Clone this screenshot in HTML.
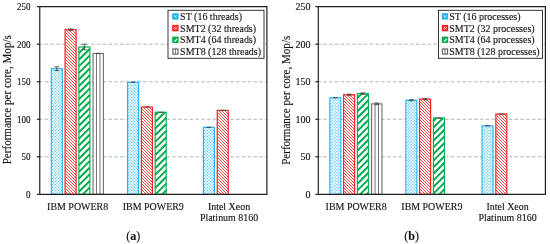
<!DOCTYPE html>
<html><head><meta charset="utf-8"><title>Performance per core</title>
<style>html,body{margin:0;padding:0;background:#fff}svg{display:block}text{font-family:"Liberation Serif",serif;font-size:10px;fill:#141414;stroke:#141414;stroke-width:0.14px}</style></head>
<body><svg width="550" height="244" viewBox="0 0 550 244">
<rect width="550" height="244" fill="#fff"/>

<line x1="38.85" x2="266.9" y1="156.81" y2="156.81" stroke="#adadad" stroke-width="0.9" stroke-dasharray="3.5 2.3"/>
<line x1="38.85" x2="266.9" y1="119.27" y2="119.27" stroke="#adadad" stroke-width="0.9" stroke-dasharray="3.5 2.3"/>
<line x1="38.85" x2="266.9" y1="81.73" y2="81.73" stroke="#adadad" stroke-width="0.9" stroke-dasharray="3.5 2.3"/>
<line x1="38.85" x2="266.9" y1="44.19" y2="44.19" stroke="#adadad" stroke-width="0.9" stroke-dasharray="3.5 2.3"/>
<rect x="51.31" y="68.72" width="11.00" height="125.63" fill="#fff"/>
<path d="M52.36 194.35V68.72M55.36 194.35V68.72M58.36 194.35V68.72M61.36 194.35V68.72" stroke="#1fb4f0" stroke-opacity="0.72" stroke-width="1.3" stroke-dasharray="1.3 1.7" stroke-dashoffset="0.0" fill="none"/>
<path d="M53.86 194.35V68.72M56.86 194.35V68.72M59.86 194.35V68.72" stroke="#1fb4f0" stroke-opacity="0.72" stroke-width="1.3" stroke-dasharray="1.3 1.7" stroke-dashoffset="1.5" fill="none"/>
<rect x="51.31" y="68.72" width="11.00" height="125.63" fill="none" stroke="#1fb4f0" stroke-width="1.15"/>
<path d="M56.81 66.84V70.59M54.41 66.84h4.8M54.41 70.59h4.8" stroke="#484848" stroke-width="0.85" fill="none"/>
<rect x="65.09" y="29.67" width="11.00" height="164.68" fill="#fff"/>
<path d="M65.09 194.09L65.35 194.35M65.09 191.09L68.35 194.35M65.09 188.09L71.35 194.35M65.09 185.09L74.35 194.35M65.09 182.09L76.09 193.09M65.09 179.09L76.09 190.09M65.09 176.09L76.09 187.09M65.09 173.09L76.09 184.09M65.09 170.09L76.09 181.09M65.09 167.09L76.09 178.09M65.09 164.09L76.09 175.09M65.09 161.09L76.09 172.09M65.09 158.09L76.09 169.09M65.09 155.09L76.09 166.09M65.09 152.09L76.09 163.09M65.09 149.09L76.09 160.09M65.09 146.09L76.09 157.09M65.09 143.09L76.09 154.09M65.09 140.09L76.09 151.09M65.09 137.09L76.09 148.09M65.09 134.09L76.09 145.09M65.09 131.09L76.09 142.09M65.09 128.09L76.09 139.09M65.09 125.09L76.09 136.09M65.09 122.09L76.09 133.09M65.09 119.09L76.09 130.09M65.09 116.09L76.09 127.09M65.09 113.09L76.09 124.09M65.09 110.09L76.09 121.09M65.09 107.09L76.09 118.09M65.09 104.09L76.09 115.09M65.09 101.09L76.09 112.09M65.09 98.09L76.09 109.09M65.09 95.09L76.09 106.09M65.09 92.09L76.09 103.09M65.09 89.09L76.09 100.09M65.09 86.09L76.09 97.09M65.09 83.09L76.09 94.09M65.09 80.09L76.09 91.09M65.09 77.09L76.09 88.09M65.09 74.09L76.09 85.09M65.09 71.09L76.09 82.09M65.09 68.09L76.09 79.09M65.09 65.09L76.09 76.09M65.09 62.09L76.09 73.09M65.09 59.09L76.09 70.09M65.09 56.09L76.09 67.09M65.09 53.09L76.09 64.09M65.09 50.09L76.09 61.09M65.09 47.09L76.09 58.09M65.09 44.09L76.09 55.09M65.09 41.09L76.09 52.09M65.09 38.09L76.09 49.09M65.09 35.09L76.09 46.09M65.09 32.09L76.09 43.09M65.67 29.67L76.09 40.09M68.67 29.67L76.09 37.09M71.67 29.67L76.09 34.09M74.67 29.67L76.09 31.09" stroke="#ff1a1a" stroke-width="0.82" fill="none"/>
<rect x="65.09" y="29.67" width="11.00" height="164.68" fill="none" stroke="#ff1a1a" stroke-width="1.15"/>
<path d="M70.59 28.92V30.42M68.19 28.92h4.8M68.19 30.42h4.8" stroke="#484848" stroke-width="0.85" fill="none"/>
<rect x="78.87" y="46.94" width="11.00" height="147.41" fill="#fff"/>
<path d="M78.87 53.13L85.06 46.94M78.87 59.73L89.87 48.73M78.87 66.33L89.87 55.33M78.87 72.93L89.87 61.93M78.87 79.53L89.87 68.53M78.87 86.13L89.87 75.13M78.87 92.73L89.87 81.73M78.87 99.33L89.87 88.33M78.87 105.93L89.87 94.93M78.87 112.53L89.87 101.53M78.87 119.13L89.87 108.13M78.87 125.73L89.87 114.73M78.87 132.33L89.87 121.33M78.87 138.93L89.87 127.93M78.87 145.53L89.87 134.53M78.87 152.13L89.87 141.13M78.87 158.73L89.87 147.73M78.87 165.33L89.87 154.33M78.87 171.93L89.87 160.93M78.87 178.53L89.87 167.53M78.87 185.13L89.87 174.13M78.87 191.73L89.87 180.73M82.85 194.35L89.87 187.33M89.45 194.35L89.87 193.93" stroke="#00ad4e" stroke-width="1.95" fill="none"/>
<rect x="78.87" y="46.94" width="11.00" height="147.41" fill="none" stroke="#00ad4e" stroke-width="1.15"/>
<path d="M84.37 44.24V49.65M81.97 44.24h4.8M81.97 49.65h4.8" stroke="#484848" stroke-width="0.85" fill="none"/>
<rect x="93.05" y="53.47" width="10.35" height="140.88" fill="#fff"/>
<path d="M96.50 52.97V194.35" stroke="#737373" stroke-width="1"/>
<path d="M99.95 52.97V194.35" stroke="#737373" stroke-width="1"/>
<rect x="93.05" y="53.47" width="10.35" height="140.88" fill="none" stroke="#737373" stroke-width="1.15"/>
<path d="M95.92 53.47h4.6" stroke="#484848" stroke-width="1.1" fill="none"/>
<rect x="127.62" y="82.23" width="11.00" height="112.12" fill="#fff"/>
<path d="M128.67 194.35V82.23M131.67 194.35V82.23M134.67 194.35V82.23M137.67 194.35V82.23" stroke="#1fb4f0" stroke-opacity="0.72" stroke-width="1.3" stroke-dasharray="1.3 1.7" stroke-dashoffset="0.0" fill="none"/>
<path d="M130.17 194.35V82.23M133.17 194.35V82.23M136.17 194.35V82.23" stroke="#1fb4f0" stroke-opacity="0.72" stroke-width="1.3" stroke-dasharray="1.3 1.7" stroke-dashoffset="1.5" fill="none"/>
<rect x="127.62" y="82.23" width="11.00" height="112.12" fill="none" stroke="#1fb4f0" stroke-width="1.15"/>
<path d="M130.82 82.23h4.6" stroke="#484848" stroke-width="1.1" fill="none"/>
<rect x="141.40" y="107.01" width="11.00" height="87.34" fill="#fff"/>
<path d="M141.40 192.40L143.35 194.35M141.40 189.40L146.35 194.35M141.40 186.40L149.35 194.35M141.40 183.40L152.35 194.35M141.40 180.40L152.40 191.40M141.40 177.40L152.40 188.40M141.40 174.40L152.40 185.40M141.40 171.40L152.40 182.40M141.40 168.40L152.40 179.40M141.40 165.40L152.40 176.40M141.40 162.40L152.40 173.40M141.40 159.40L152.40 170.40M141.40 156.40L152.40 167.40M141.40 153.40L152.40 164.40M141.40 150.40L152.40 161.40M141.40 147.40L152.40 158.40M141.40 144.40L152.40 155.40M141.40 141.40L152.40 152.40M141.40 138.40L152.40 149.40M141.40 135.40L152.40 146.40M141.40 132.40L152.40 143.40M141.40 129.40L152.40 140.40M141.40 126.40L152.40 137.40M141.40 123.40L152.40 134.40M141.40 120.40L152.40 131.40M141.40 117.40L152.40 128.40M141.40 114.40L152.40 125.40M141.40 111.40L152.40 122.40M141.40 108.40L152.40 119.40M143.01 107.01L152.40 116.40M146.01 107.01L152.40 113.40M149.01 107.01L152.40 110.40M152.01 107.01L152.40 107.40" stroke="#ff1a1a" stroke-width="0.82" fill="none"/>
<rect x="141.40" y="107.01" width="11.00" height="87.34" fill="none" stroke="#ff1a1a" stroke-width="1.15"/>
<path d="M144.60 107.01h4.6" stroke="#484848" stroke-width="1.1" fill="none"/>
<rect x="155.18" y="112.26" width="11.00" height="82.09" fill="#fff"/>
<path d="M155.18 115.42L158.34 112.26M155.18 122.02L164.94 112.26M155.18 128.62L166.18 117.62M155.18 135.22L166.18 124.22M155.18 141.82L166.18 130.82M155.18 148.42L166.18 137.42M155.18 155.02L166.18 144.02M155.18 161.62L166.18 150.62M155.18 168.22L166.18 157.22M155.18 174.82L166.18 163.82M155.18 181.42L166.18 170.42M155.18 188.02L166.18 177.02M155.45 194.35L166.18 183.62M162.05 194.35L166.18 190.22" stroke="#00ad4e" stroke-width="1.95" fill="none"/>
<rect x="155.18" y="112.26" width="11.00" height="82.09" fill="none" stroke="#00ad4e" stroke-width="1.15"/>
<path d="M158.38 112.26h4.6" stroke="#484848" stroke-width="1.1" fill="none"/>
<rect x="203.44" y="127.28" width="11.00" height="67.07" fill="#fff"/>
<path d="M204.49 194.35V127.28M207.49 194.35V127.28M210.49 194.35V127.28M213.49 194.35V127.28" stroke="#1fb4f0" stroke-opacity="0.72" stroke-width="1.3" stroke-dasharray="1.3 1.7" stroke-dashoffset="0.0" fill="none"/>
<path d="M205.99 194.35V127.28M208.99 194.35V127.28M211.99 194.35V127.28" stroke="#1fb4f0" stroke-opacity="0.72" stroke-width="1.3" stroke-dasharray="1.3 1.7" stroke-dashoffset="1.5" fill="none"/>
<rect x="203.44" y="127.28" width="11.00" height="67.07" fill="none" stroke="#1fb4f0" stroke-width="1.15"/>
<path d="M206.64 127.28h4.6" stroke="#484848" stroke-width="1.1" fill="none"/>
<rect x="217.22" y="110.39" width="11.00" height="83.96" fill="#fff"/>
<path d="M217.22 193.22L218.35 194.35M217.22 190.22L221.35 194.35M217.22 187.22L224.35 194.35M217.22 184.22L227.35 194.35M217.22 181.22L228.22 192.22M217.22 178.22L228.22 189.22M217.22 175.22L228.22 186.22M217.22 172.22L228.22 183.22M217.22 169.22L228.22 180.22M217.22 166.22L228.22 177.22M217.22 163.22L228.22 174.22M217.22 160.22L228.22 171.22M217.22 157.22L228.22 168.22M217.22 154.22L228.22 165.22M217.22 151.22L228.22 162.22M217.22 148.22L228.22 159.22M217.22 145.22L228.22 156.22M217.22 142.22L228.22 153.22M217.22 139.22L228.22 150.22M217.22 136.22L228.22 147.22M217.22 133.22L228.22 144.22M217.22 130.22L228.22 141.22M217.22 127.22L228.22 138.22M217.22 124.22L228.22 135.22M217.22 121.22L228.22 132.22M217.22 118.22L228.22 129.22M217.22 115.22L228.22 126.22M217.22 112.22L228.22 123.22M218.38 110.38L228.22 120.22M221.38 110.38L228.22 117.22M224.38 110.38L228.22 114.22M227.38 110.38L228.22 111.22" stroke="#ff1a1a" stroke-width="0.82" fill="none"/>
<rect x="217.22" y="110.39" width="11.00" height="83.96" fill="none" stroke="#ff1a1a" stroke-width="1.15"/>
<path d="M220.42 110.39h4.6" stroke="#484848" stroke-width="1.1" fill="none"/>
<path d="M39.75 6.65H266.9V194.35H39.75Z" fill="none" stroke="#222" stroke-width="1.2"/>
<line x1="36.85" x2="39.75" y1="194.35" y2="194.35" stroke="#222" stroke-width="1.2"/>
<text transform="translate(30.55 197.85) scale(0.9 1)" text-anchor="end" style="font-size:10px">0</text>
<line x1="36.85" x2="39.75" y1="156.81" y2="156.81" stroke="#222" stroke-width="1.2"/>
<text transform="translate(30.55 160.31) scale(0.9 1)" text-anchor="end" style="font-size:10px">50</text>
<line x1="36.85" x2="39.75" y1="119.27" y2="119.27" stroke="#222" stroke-width="1.2"/>
<text transform="translate(30.55 122.77) scale(0.9 1)" text-anchor="end" style="font-size:10px">100</text>
<line x1="36.85" x2="39.75" y1="81.73" y2="81.73" stroke="#222" stroke-width="1.2"/>
<text transform="translate(30.55 85.23) scale(0.9 1)" text-anchor="end" style="font-size:10px">150</text>
<line x1="36.85" x2="39.75" y1="44.19" y2="44.19" stroke="#222" stroke-width="1.2"/>
<text transform="translate(30.55 47.69) scale(0.9 1)" text-anchor="end" style="font-size:10px">200</text>
<line x1="36.85" x2="39.75" y1="6.65" y2="6.65" stroke="#222" stroke-width="1.2"/>
<text transform="translate(30.55 10.15) scale(0.9 1)" text-anchor="end" style="font-size:10px">250</text>
<text transform="translate(10.85 99.75) rotate(-90) scale(0.909 1)" text-anchor="middle" style="font-size:12.2px">Performance per core, Mop/s</text>
<text transform="translate(77.61 209.60) scale(0.94 1)" text-anchor="middle" style="font-size:10.6px">IBM POWER8</text>
<text transform="translate(153.32 209.60) scale(0.94 1)" text-anchor="middle" style="font-size:10.6px">IBM POWER9</text>
<text transform="translate(229.04 209.60) scale(0.94 1)" text-anchor="middle" style="font-size:10.6px">Intel Xeon</text>
<text transform="translate(229.04 221.00) scale(0.94 1)" text-anchor="middle" style="font-size:10.6px">Platinum 8160</text>
<rect x="168.00" y="10.3" width="96" height="48" fill="#fff" stroke="#222" stroke-width="0.9"/>
<rect x="173.10" y="14.10" width="4.6" height="4.6" fill="#1fb4f0" stroke="#1fb4f0" stroke-width="1.8"/>
<path d="M174.30 15.30l2.2 2.2M176.50 15.30l-2.2 2.2" stroke="#fff" stroke-width="0.9" stroke-opacity="0.9"/>
<text transform="translate(180.10 19.80) scale(0.926 1)" text-anchor="start" style="font-size:10.8px">ST (16 threads)</text>
<rect x="173.10" y="25.82" width="4.6" height="4.6" fill="#ff1a1a" stroke="#ff1a1a" stroke-width="1.8"/>
<path d="M174.00 26.72l2.8 2.8M173.90 28.62l1.1 1.1M175.90 26.62l1.1 1.1" stroke="#fff" stroke-width="0.9"/>
<text transform="translate(180.10 31.52) scale(0.926 1)" text-anchor="start" style="font-size:10.8px">SMT2 (32 threads)</text>
<rect x="173.10" y="37.54" width="4.6" height="4.6" fill="#00ad4e" stroke="#00ad4e" stroke-width="1.8"/>
<path d="M174.60 41.54L177.20 38.94" stroke="#fff" stroke-width="1.2"/>
<text transform="translate(180.10 43.24) scale(0.926 1)" text-anchor="start" style="font-size:10.8px">SMT4 (64 threads)</text>
<rect x="172.85" y="49.01" width="5.1" height="5.1" fill="#fff" stroke="#666" stroke-width="1.2"/>
<path d="M175.40 48.96v5.2" stroke="#666" stroke-width="0.9"/>
<text transform="translate(180.10 54.96) scale(0.926 1)" text-anchor="start" style="font-size:10.8px">SMT8 (128 threads)</text>
<line x1="317.40000000000003" x2="545.4" y1="156.81" y2="156.81" stroke="#adadad" stroke-width="0.9" stroke-dasharray="3.5 2.3"/>
<line x1="317.40000000000003" x2="545.4" y1="119.27" y2="119.27" stroke="#adadad" stroke-width="0.9" stroke-dasharray="3.5 2.3"/>
<line x1="317.40000000000003" x2="545.4" y1="81.73" y2="81.73" stroke="#adadad" stroke-width="0.9" stroke-dasharray="3.5 2.3"/>
<line x1="317.40000000000003" x2="545.4" y1="44.19" y2="44.19" stroke="#adadad" stroke-width="0.9" stroke-dasharray="3.5 2.3"/>
<rect x="329.85" y="97.77" width="11.00" height="96.58" fill="#fff"/>
<path d="M330.90 194.35V97.77M333.90 194.35V97.77M336.90 194.35V97.77M339.90 194.35V97.77" stroke="#1fb4f0" stroke-opacity="0.72" stroke-width="1.3" stroke-dasharray="1.3 1.7" stroke-dashoffset="0.0" fill="none"/>
<path d="M332.40 194.35V97.77M335.40 194.35V97.77M338.40 194.35V97.77" stroke="#1fb4f0" stroke-opacity="0.72" stroke-width="1.3" stroke-dasharray="1.3 1.7" stroke-dashoffset="1.5" fill="none"/>
<rect x="329.85" y="97.77" width="11.00" height="96.58" fill="none" stroke="#1fb4f0" stroke-width="1.15"/>
<path d="M333.05 97.77h4.6" stroke="#484848" stroke-width="1.1" fill="none"/>
<rect x="343.63" y="94.77" width="11.00" height="99.58" fill="#fff"/>
<path d="M343.63 193.63L344.35 194.35M343.63 190.63L347.35 194.35M343.63 187.63L350.35 194.35M343.63 184.63L353.35 194.35M343.63 181.63L354.63 192.63M343.63 178.63L354.63 189.63M343.63 175.63L354.63 186.63M343.63 172.63L354.63 183.63M343.63 169.63L354.63 180.63M343.63 166.63L354.63 177.63M343.63 163.63L354.63 174.63M343.63 160.63L354.63 171.63M343.63 157.63L354.63 168.63M343.63 154.63L354.63 165.63M343.63 151.63L354.63 162.63M343.63 148.63L354.63 159.63M343.63 145.63L354.63 156.63M343.63 142.63L354.63 153.63M343.63 139.63L354.63 150.63M343.63 136.63L354.63 147.63M343.63 133.63L354.63 144.63M343.63 130.63L354.63 141.63M343.63 127.63L354.63 138.63M343.63 124.63L354.63 135.63M343.63 121.63L354.63 132.63M343.63 118.63L354.63 129.63M343.63 115.63L354.63 126.63M343.63 112.63L354.63 123.63M343.63 109.63L354.63 120.63M343.63 106.63L354.63 117.63M343.63 103.63L354.63 114.63M343.63 100.63L354.63 111.63M343.63 97.63L354.63 108.63M343.77 94.77L354.63 105.63M346.77 94.77L354.63 102.63M349.77 94.77L354.63 99.63M352.77 94.77L354.63 96.63" stroke="#ff1a1a" stroke-width="0.82" fill="none"/>
<rect x="343.63" y="94.77" width="11.00" height="99.58" fill="none" stroke="#ff1a1a" stroke-width="1.15"/>
<path d="M349.13 94.17V95.37M346.73 94.17h4.8M346.73 95.37h4.8" stroke="#484848" stroke-width="0.85" fill="none"/>
<rect x="357.41" y="93.64" width="11.00" height="100.71" fill="#fff"/>
<path d="M357.41 97.99L361.76 93.64M357.41 104.59L368.36 93.64M357.41 111.19L368.41 100.19M357.41 117.79L368.41 106.79M357.41 124.39L368.41 113.39M357.41 130.99L368.41 119.99M357.41 137.59L368.41 126.59M357.41 144.19L368.41 133.19M357.41 150.79L368.41 139.79M357.41 157.39L368.41 146.39M357.41 163.99L368.41 152.99M357.41 170.59L368.41 159.59M357.41 177.19L368.41 166.19M357.41 183.79L368.41 172.79M357.41 190.39L368.41 179.39M360.05 194.35L368.41 185.99M366.65 194.35L368.41 192.59" stroke="#00ad4e" stroke-width="1.95" fill="none"/>
<rect x="357.41" y="93.64" width="11.00" height="100.71" fill="none" stroke="#00ad4e" stroke-width="1.15"/>
<path d="M362.91 92.89V94.39M360.51 92.89h4.8M360.51 94.39h4.8" stroke="#484848" stroke-width="0.85" fill="none"/>
<rect x="371.59" y="103.85" width="10.35" height="90.50" fill="#fff"/>
<path d="M375.04 103.35V194.35" stroke="#737373" stroke-width="1"/>
<path d="M378.49 103.35V194.35" stroke="#737373" stroke-width="1"/>
<rect x="371.59" y="103.85" width="10.35" height="90.50" fill="none" stroke="#737373" stroke-width="1.15"/>
<path d="M376.76 102.95V104.75M374.36 102.95h4.8M374.36 104.75h4.8" stroke="#484848" stroke-width="0.85" fill="none"/>
<rect x="405.85" y="100.25" width="11.00" height="94.10" fill="#fff"/>
<path d="M406.90 194.35V100.25M409.90 194.35V100.25M412.90 194.35V100.25M415.90 194.35V100.25" stroke="#1fb4f0" stroke-opacity="0.72" stroke-width="1.3" stroke-dasharray="1.3 1.7" stroke-dashoffset="0.0" fill="none"/>
<path d="M408.40 194.35V100.25M411.40 194.35V100.25M414.40 194.35V100.25" stroke="#1fb4f0" stroke-opacity="0.72" stroke-width="1.3" stroke-dasharray="1.3 1.7" stroke-dashoffset="1.5" fill="none"/>
<rect x="405.85" y="100.25" width="11.00" height="94.10" fill="none" stroke="#1fb4f0" stroke-width="1.15"/>
<path d="M411.35 99.65V100.85M408.95 99.65h4.8M408.95 100.85h4.8" stroke="#484848" stroke-width="0.85" fill="none"/>
<rect x="419.63" y="99.12" width="11.00" height="95.23" fill="#fff"/>
<path d="M419.63 191.63L422.35 194.35M419.63 188.63L425.35 194.35M419.63 185.63L428.35 194.35M419.63 182.63L430.63 193.63M419.63 179.63L430.63 190.63M419.63 176.63L430.63 187.63M419.63 173.63L430.63 184.63M419.63 170.63L430.63 181.63M419.63 167.63L430.63 178.63M419.63 164.63L430.63 175.63M419.63 161.63L430.63 172.63M419.63 158.63L430.63 169.63M419.63 155.63L430.63 166.63M419.63 152.63L430.63 163.63M419.63 149.63L430.63 160.63M419.63 146.63L430.63 157.63M419.63 143.63L430.63 154.63M419.63 140.63L430.63 151.63M419.63 137.63L430.63 148.63M419.63 134.63L430.63 145.63M419.63 131.63L430.63 142.63M419.63 128.63L430.63 139.63M419.63 125.63L430.63 136.63M419.63 122.63L430.63 133.63M419.63 119.63L430.63 130.63M419.63 116.63L430.63 127.63M419.63 113.63L430.63 124.63M419.63 110.63L430.63 121.63M419.63 107.63L430.63 118.63M419.63 104.63L430.63 115.63M419.63 101.63L430.63 112.63M420.12 99.12L430.63 109.63M423.12 99.12L430.63 106.63M426.12 99.12L430.63 103.63M429.12 99.12L430.63 100.63" stroke="#ff1a1a" stroke-width="0.82" fill="none"/>
<rect x="419.63" y="99.12" width="11.00" height="95.23" fill="none" stroke="#ff1a1a" stroke-width="1.15"/>
<path d="M425.13 98.52V99.72M422.73 98.52h4.8M422.73 99.72h4.8" stroke="#484848" stroke-width="0.85" fill="none"/>
<rect x="433.41" y="118.04" width="11.00" height="76.31" fill="#fff"/>
<path d="M433.41 120.99L436.36 118.04M433.41 127.59L442.96 118.04M433.41 134.19L444.41 123.19M433.41 140.79L444.41 129.79M433.41 147.39L444.41 136.39M433.41 153.99L444.41 142.99M433.41 160.59L444.41 149.59M433.41 167.19L444.41 156.19M433.41 173.79L444.41 162.79M433.41 180.39L444.41 169.39M433.41 186.99L444.41 175.99M433.41 193.59L444.41 182.59M439.25 194.35L444.41 189.19" stroke="#00ad4e" stroke-width="1.95" fill="none"/>
<rect x="433.41" y="118.04" width="11.00" height="76.31" fill="none" stroke="#00ad4e" stroke-width="1.15"/>
<path d="M436.61 118.04h4.6" stroke="#484848" stroke-width="1.1" fill="none"/>
<rect x="482.05" y="125.78" width="11.00" height="68.57" fill="#fff"/>
<path d="M483.10 194.35V125.78M486.10 194.35V125.78M489.10 194.35V125.78M492.10 194.35V125.78" stroke="#1fb4f0" stroke-opacity="0.72" stroke-width="1.3" stroke-dasharray="1.3 1.7" stroke-dashoffset="0.0" fill="none"/>
<path d="M484.60 194.35V125.78M487.60 194.35V125.78M490.60 194.35V125.78" stroke="#1fb4f0" stroke-opacity="0.72" stroke-width="1.3" stroke-dasharray="1.3 1.7" stroke-dashoffset="1.5" fill="none"/>
<rect x="482.05" y="125.78" width="11.00" height="68.57" fill="none" stroke="#1fb4f0" stroke-width="1.15"/>
<path d="M485.25 125.78h4.6" stroke="#484848" stroke-width="1.1" fill="none"/>
<rect x="495.83" y="113.99" width="11.00" height="80.36" fill="#fff"/>
<path d="M495.83 192.83L497.35 194.35M495.83 189.83L500.35 194.35M495.83 186.83L503.35 194.35M495.83 183.83L506.35 194.35M495.83 180.83L506.83 191.83M495.83 177.83L506.83 188.83M495.83 174.83L506.83 185.83M495.83 171.83L506.83 182.83M495.83 168.83L506.83 179.83M495.83 165.83L506.83 176.83M495.83 162.83L506.83 173.83M495.83 159.83L506.83 170.83M495.83 156.83L506.83 167.83M495.83 153.83L506.83 164.83M495.83 150.83L506.83 161.83M495.83 147.83L506.83 158.83M495.83 144.83L506.83 155.83M495.83 141.83L506.83 152.83M495.83 138.83L506.83 149.83M495.83 135.83L506.83 146.83M495.83 132.83L506.83 143.83M495.83 129.83L506.83 140.83M495.83 126.83L506.83 137.83M495.83 123.83L506.83 134.83M495.83 120.83L506.83 131.83M495.83 117.83L506.83 128.83M495.83 114.83L506.83 125.83M497.99 113.99L506.83 122.83M500.99 113.99L506.83 119.83M503.99 113.99L506.83 116.83" stroke="#ff1a1a" stroke-width="0.82" fill="none"/>
<rect x="495.83" y="113.99" width="11.00" height="80.36" fill="none" stroke="#ff1a1a" stroke-width="1.15"/>
<path d="M499.03 113.99h4.6" stroke="#484848" stroke-width="1.1" fill="none"/>
<path d="M318.3 6.65H545.4V194.35H318.3Z" fill="none" stroke="#222" stroke-width="1.2"/>
<line x1="315.40000000000003" x2="318.3" y1="194.35" y2="194.35" stroke="#222" stroke-width="1.2"/>
<text transform="translate(310.60 197.85) scale(1.0 1)" text-anchor="end" style="font-size:10px">0</text>
<line x1="315.40000000000003" x2="318.3" y1="156.81" y2="156.81" stroke="#222" stroke-width="1.2"/>
<text transform="translate(310.60 160.31) scale(1.0 1)" text-anchor="end" style="font-size:10px">50</text>
<line x1="315.40000000000003" x2="318.3" y1="119.27" y2="119.27" stroke="#222" stroke-width="1.2"/>
<text transform="translate(310.60 122.77) scale(1.0 1)" text-anchor="end" style="font-size:10px">100</text>
<line x1="315.40000000000003" x2="318.3" y1="81.73" y2="81.73" stroke="#222" stroke-width="1.2"/>
<text transform="translate(310.60 85.23) scale(1.0 1)" text-anchor="end" style="font-size:10px">150</text>
<line x1="315.40000000000003" x2="318.3" y1="44.19" y2="44.19" stroke="#222" stroke-width="1.2"/>
<text transform="translate(310.60 47.69) scale(1.0 1)" text-anchor="end" style="font-size:10px">200</text>
<line x1="315.40000000000003" x2="318.3" y1="6.65" y2="6.65" stroke="#222" stroke-width="1.2"/>
<text transform="translate(310.60 10.15) scale(1.0 1)" text-anchor="end" style="font-size:10px">250</text>
<text transform="translate(290.30 100.30) rotate(-90) scale(0.909 1)" text-anchor="middle" style="font-size:12.2px">Performance per core, Mop/s</text>
<text transform="translate(356.15 209.60) scale(0.94 1)" text-anchor="middle" style="font-size:10.6px">IBM POWER8</text>
<text transform="translate(431.85 209.60) scale(0.94 1)" text-anchor="middle" style="font-size:10.6px">IBM POWER9</text>
<text transform="translate(507.55 209.60) scale(0.94 1)" text-anchor="middle" style="font-size:10.6px">Intel Xeon</text>
<text transform="translate(507.55 221.00) scale(0.94 1)" text-anchor="middle" style="font-size:10.6px">Platinum 8160</text>
<rect x="438.50" y="10.3" width="104" height="48" fill="#fff" stroke="#222" stroke-width="0.9"/>
<rect x="442.70" y="14.10" width="4.6" height="4.6" fill="#1fb4f0" stroke="#1fb4f0" stroke-width="1.8"/>
<path d="M443.90 15.30l2.2 2.2M446.10 15.30l-2.2 2.2" stroke="#fff" stroke-width="0.9" stroke-opacity="0.9"/>
<text transform="translate(449.20 19.80) scale(0.926 1)" text-anchor="start" style="font-size:10.8px">ST (16 processes)</text>
<rect x="442.70" y="25.82" width="4.6" height="4.6" fill="#ff1a1a" stroke="#ff1a1a" stroke-width="1.8"/>
<path d="M443.60 26.72l2.8 2.8M443.50 28.62l1.1 1.1M445.50 26.62l1.1 1.1" stroke="#fff" stroke-width="0.9"/>
<text transform="translate(449.20 31.52) scale(0.926 1)" text-anchor="start" style="font-size:10.8px">SMT2 (32 processes)</text>
<rect x="442.70" y="37.54" width="4.6" height="4.6" fill="#00ad4e" stroke="#00ad4e" stroke-width="1.8"/>
<path d="M444.20 41.54L446.80 38.94" stroke="#fff" stroke-width="1.2"/>
<text transform="translate(449.20 43.24) scale(0.926 1)" text-anchor="start" style="font-size:10.8px">SMT4 (64 processes)</text>
<rect x="442.45" y="49.01" width="5.1" height="5.1" fill="#fff" stroke="#666" stroke-width="1.2"/>
<path d="M445.00 48.96v5.2" stroke="#666" stroke-width="0.9"/>
<text transform="translate(449.20 54.96) scale(0.926 1)" text-anchor="start" style="font-size:10.8px">SMT8 (128 processes)</text>
<text transform="translate(133.2 239.7) scale(0.93 1)" text-anchor="middle" style="font-size:13px">(<tspan font-weight="bold">a</tspan>)</text>
<text transform="translate(411.6 239.7) scale(0.93 1)" text-anchor="middle" style="font-size:13px">(<tspan font-weight="bold">b</tspan>)</text>
</svg></body></html>
